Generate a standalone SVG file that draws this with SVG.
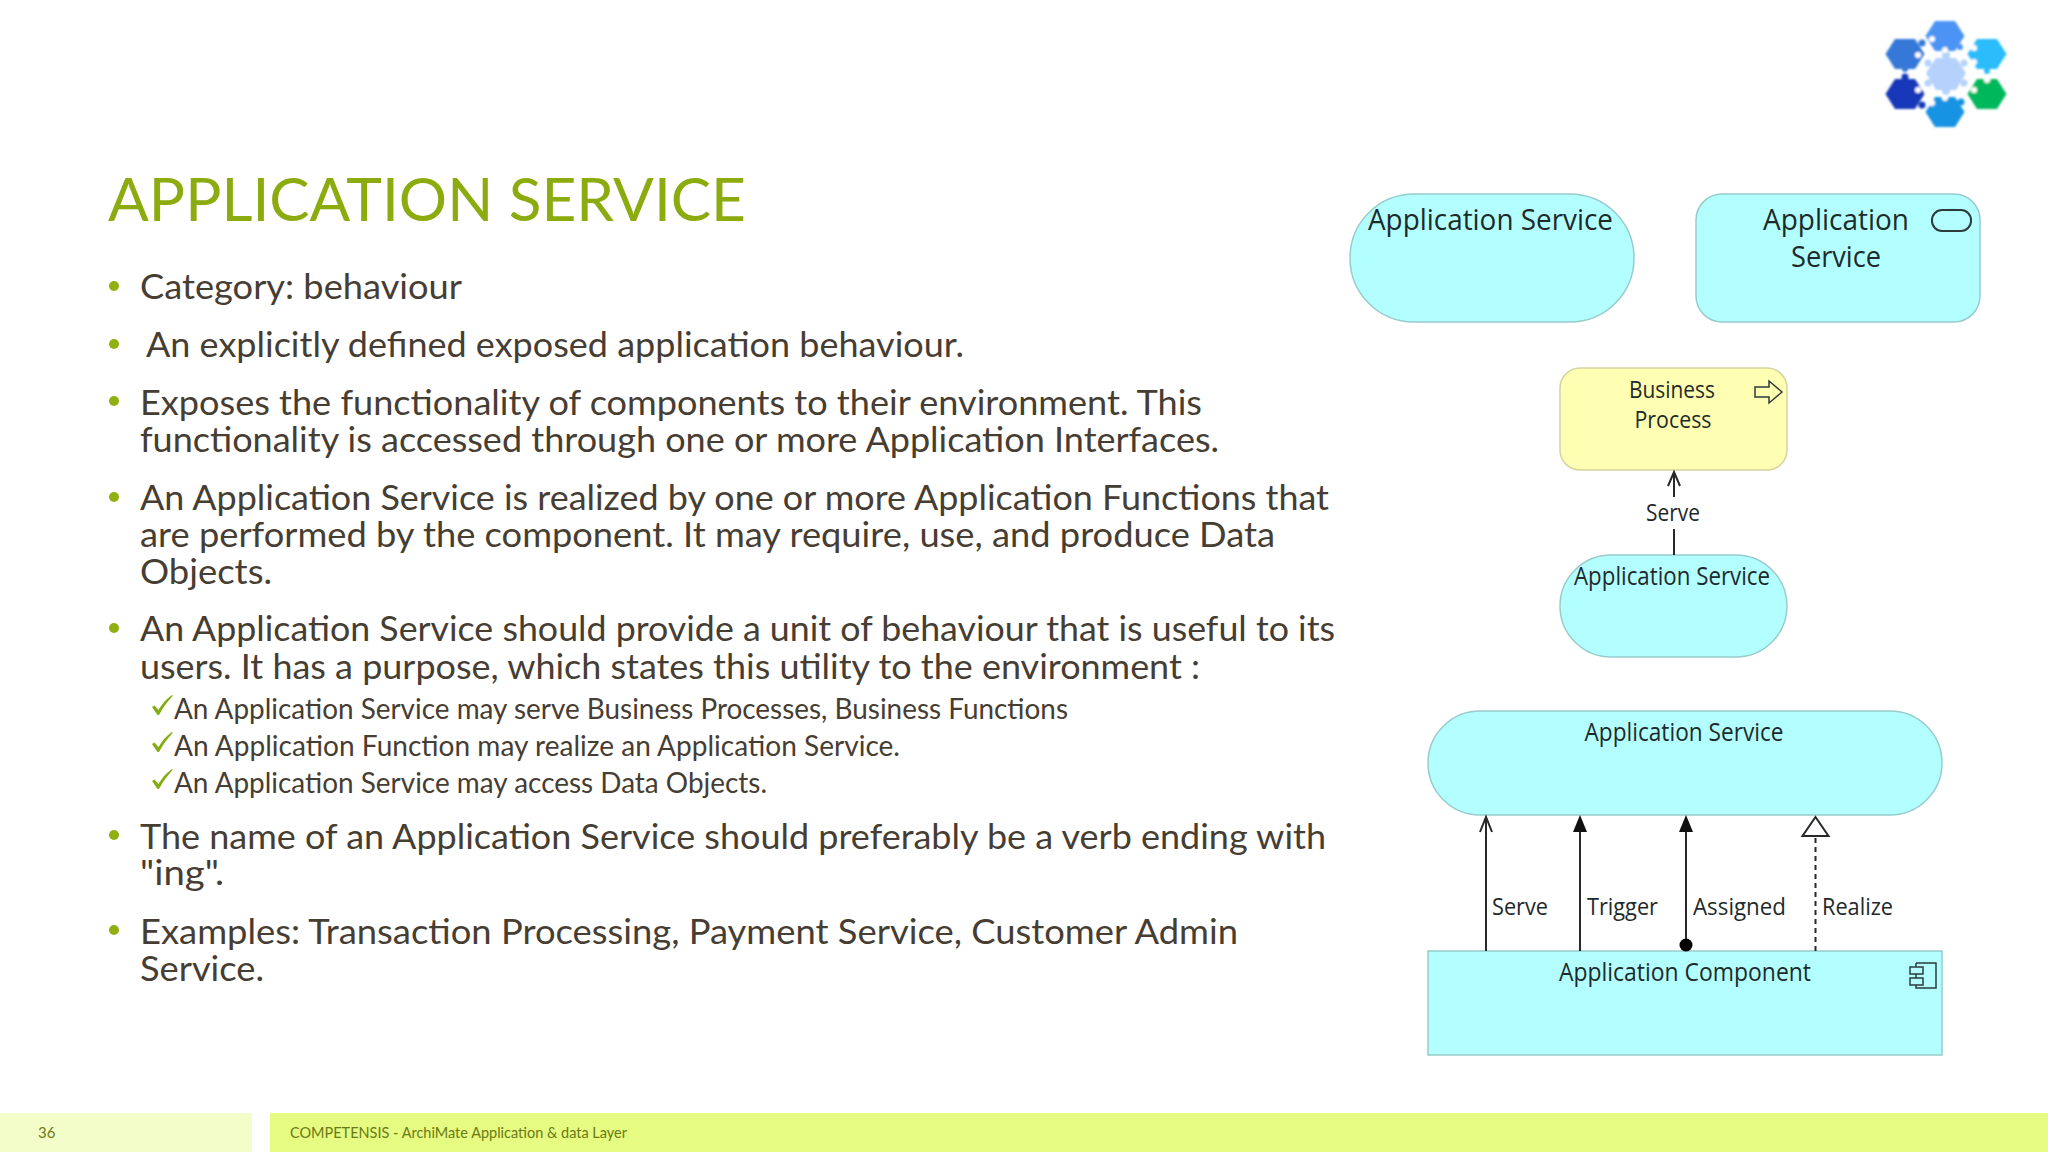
<svg xmlns="http://www.w3.org/2000/svg" xmlns:xlink="http://www.w3.org/1999/xlink" width="2048" height="1152" viewBox="0 0 2048 1152">
<style>
.b{font-family:Lato,"Liberation Sans",sans-serif;font-size:35px;fill:#463d33}
.s{font-family:Lato,"Liberation Sans",sans-serif;font-size:28px;fill:#463d33}
.t{font-family:Lato,"Liberation Sans",sans-serif;font-size:60px;fill:#8cab0f}
.f{font-family:Lato,"Liberation Sans",sans-serif;font-size:15px;fill:#6b7a12}
.l{font-family:"Open Sans","Noto Sans",sans-serif;fill:#1e2a2a}
.l30{font-size:30px}.l24{font-size:25px}.l23{font-size:24px}
.m{text-anchor:middle}
.app{fill:#b3ffff;stroke:#98cccc;stroke-width:1.500}
.biz{fill:#ffffb3;stroke:#d4d4a0;stroke-width:1.500}
.ic{fill:none;stroke:#2d3b3b;stroke-width:2}
.c{fill:none;stroke:#26282a;stroke-width:2}
.dot{fill:#8fb00f}
.chk{fill:#86ad10}
</style>
<defs>
<path id="hex" d="M-10-15H10L19.500 0L10 15H-10L-19.500 0Z"/>
<path id="tick" d="M0 8 L2.500 6.500 L6.500 11 C10 5 14 0 20-4 L20.800-3.200 C15 3 11 9 7 16 L5.500 16 Z"/>
<filter id="soft" x="-10%" y="-10%" width="120%" height="120%"><feGaussianBlur stdDeviation="0.8"/></filter>
</defs>
<rect width="2048" height="1152" fill="#fff"/>

<g id="logo" filter="url(#soft)">
<g fill="#4c94f5"><use xlink:href="#hex" x="1945" y="36"/><circle cx="1960" cy="47" r="3"/></g>
<g fill="#3678d8"><use xlink:href="#hex" x="1905" y="54"/><circle cx="1922" cy="43" r="3.500"/><circle cx="1905" cy="69" r="3"/></g>
<g fill="#2bbcfb"><use xlink:href="#hex" x="1987" y="54"/><circle cx="1987" cy="71" r="3"/></g>
<g fill="#1338b8"><use xlink:href="#hex" x="1905" y="94"/><circle cx="1905" cy="77" r="3.500"/><circle cx="1922" cy="105" r="3.500"/></g>
<g fill="#05b85c"><use xlink:href="#hex" x="1987" y="94"/></g>
<g fill="#1793e3"><use xlink:href="#hex" x="1945" y="112"/><circle cx="1961" cy="102" r="3.500"/></g>
<g fill="#b4d2fb"><path d="M1936 58H1956L1966 73L1956 90H1936L1926 73Z"/><circle cx="1946" cy="55" r="4"/><circle cx="1946" cy="91" r="4"/><circle cx="1928" cy="63" r="3.500"/><circle cx="1964" cy="63" r="3.500"/><circle cx="1928" cy="83" r="3.500"/><circle cx="1964" cy="83" r="3.500"/></g>
<g fill="#fff"><circle cx="1932" cy="39" r="3"/><circle cx="1945" cy="50" r="3"/><circle cx="1918" cy="55" r="3"/><circle cx="1974" cy="48" r="3"/><circle cx="1974" cy="62" r="3"/><circle cx="1918" cy="90" r="3"/><circle cx="1974" cy="90" r="3"/><circle cx="1987" cy="80" r="3"/><circle cx="1945" cy="98" r="3"/><circle cx="1932" cy="103" r="3"/></g>
</g>

<text class="t" x="108" y="221" textLength="638" lengthAdjust="spacingAndGlyphs">APPLICATION SERVICE</text>

<g id="bullets">
<circle class="dot" cx="114" cy="286" r="5"/>
<circle class="dot" cx="114" cy="344" r="5"/>
<circle class="dot" cx="114" cy="401" r="5"/>
<circle class="dot" cx="114" cy="497" r="5"/>
<circle class="dot" cx="114" cy="628" r="5"/>
<circle class="dot" cx="114" cy="835" r="5"/>
<circle class="dot" cx="114" cy="930" r="5"/>
<use xlink:href="#tick" class="chk" x="152" y="699"/>
<use xlink:href="#tick" class="chk" x="152" y="736"/>
<use xlink:href="#tick" class="chk" x="152" y="773"/>
</g>
<g id="body">
<text class="b" x="140" y="299" textLength="322" lengthAdjust="spacingAndGlyphs">Category: behaviour</text>
<text class="b" x="146" y="357" textLength="818" lengthAdjust="spacingAndGlyphs">An explicitly defined exposed application behaviour.</text>
<text class="b" x="140" y="415" textLength="1062" lengthAdjust="spacingAndGlyphs">Exposes the functionality of components to their environment. This</text>
<text class="b" x="140" y="452" textLength="1079" lengthAdjust="spacingAndGlyphs">functionality is accessed through one or more Application Interfaces.</text>
<text class="b" x="140" y="510" textLength="1189" lengthAdjust="spacingAndGlyphs">An Application Service is realized by one or more Application Functions that</text>
<text class="b" x="140" y="547" textLength="1135" lengthAdjust="spacingAndGlyphs">are performed by the component. It may require, use, and produce Data</text>
<text class="b" x="140" y="584" textLength="132" lengthAdjust="spacingAndGlyphs">Objects.</text>
<text class="b" x="140" y="641" textLength="1195" lengthAdjust="spacingAndGlyphs">An Application Service should provide a unit of behaviour that is useful to its</text>
<text class="b" x="140" y="679" textLength="1060" lengthAdjust="spacingAndGlyphs">users. It has a purpose, which states this utility to the environment :</text>
<text class="s" x="174" y="719" textLength="894" lengthAdjust="spacingAndGlyphs">An Application Service may serve Business Processes, Business Functions</text>
<text class="s" x="174" y="756" textLength="726" lengthAdjust="spacingAndGlyphs">An Application Function may realize an Application Service.</text>
<text class="s" x="174" y="793" textLength="593" lengthAdjust="spacingAndGlyphs">An Application Service may access Data Objects.</text>
<text class="b" x="140" y="849" textLength="1186" lengthAdjust="spacingAndGlyphs">The name of an Application Service should preferably be a verb ending with</text>
<text class="b" x="140" y="885" textLength="84" lengthAdjust="spacingAndGlyphs">"ing".</text>
<text class="b" x="140" y="944" textLength="1098" lengthAdjust="spacingAndGlyphs">Examples: Transaction Processing, Payment Service, Customer Admin</text>
<text class="b" x="140" y="981" textLength="124" lengthAdjust="spacingAndGlyphs">Service.</text>
</g>

<g id="node-service-rounded">
<rect class="app" x="1350" y="194" width="284" height="128" rx="64" ry="64"/>
<text class="l l30" x="1368" y="230" textLength="245" lengthAdjust="spacingAndGlyphs">Application Service</text>
</g>
<g id="node-service-icon">
<rect class="app" x="1696" y="194" width="284" height="128" rx="26" ry="26"/>
<rect class="ic" x="1932" y="210" width="39" height="21" rx="10" ry="10"/>
<text class="l l30 m" x="1836" y="230" textLength="146" lengthAdjust="spacingAndGlyphs">Application</text>
<text class="l l30 m" x="1836" y="267" textLength="90" lengthAdjust="spacingAndGlyphs">Service</text>
</g>
<g id="node-business-process">
<rect class="biz" x="1560" y="368" width="227" height="102" rx="20" ry="20"/>
<path class="ic" d="M1755 387H1769V381L1782 392L1769 403V397H1755Z" style="stroke-width:1.500"/>
<text class="l l23 m" x="1672" y="398" textLength="86" lengthAdjust="spacingAndGlyphs">Business</text>
<text class="l l23 m" x="1673" y="428" textLength="77" lengthAdjust="spacingAndGlyphs">Process</text>
</g>
<g id="node-service-small">
<rect class="app" x="1560" y="555" width="227" height="102" rx="51" ry="51"/>
<text class="l l24 m" x="1672" y="585" textLength="196" lengthAdjust="spacingAndGlyphs">Application Service</text>
</g>
<g id="node-service-wide">
<rect class="app" x="1428" y="711" width="514" height="104" rx="52" ry="52"/>
<text class="l l24 m" x="1684" y="741" textLength="199" lengthAdjust="spacingAndGlyphs">Application Service</text>
</g>
<g id="node-component">
<rect class="app" x="1428" y="951" width="514" height="104"/>
<path class="ic" d="M1916 963H1936V988H1916V963" style="stroke-width:1.500"/>
<rect class="ic" x="1910" y="967" width="13" height="7" style="fill:#b3ffff;stroke-width:1.500"/>
<rect class="ic" x="1910" y="978" width="13" height="7" style="fill:#b3ffff;stroke-width:1.500"/>
<text class="l l24 m" x="1685" y="981" textLength="252" lengthAdjust="spacingAndGlyphs">Application Component</text>
</g>

<g id="connectors">
<path class="c" d="M1674 497V473M1668 486L1674 472L1680 486"/>
<path class="c" d="M1674 529V555"/>
<path class="c" d="M1486 951V817M1480 832L1486 817L1492 832"/>
<path class="c" d="M1580 951V820"/>
<path d="M1580 815L1587 832H1573Z" fill="#111"/>
<path class="c" d="M1686 945V820"/>
<path d="M1686 815L1693 832H1679Z" fill="#111"/>
<circle cx="1686" cy="945" r="6.500" fill="#000"/>
<path class="c" d="M1815.500 951V836" stroke-dasharray="5 4"/>
<path d="M1815.500 817L1828.500 836H1802.500Z" fill="#fff" stroke="#26282a" stroke-width="2"/>
</g>
<g id="connector-labels">
<text class="l l23 m" x="1673" y="521" textLength="54" lengthAdjust="spacingAndGlyphs">Serve</text>
<text class="l l23" x="1492" y="915" textLength="56" lengthAdjust="spacingAndGlyphs">Serve</text>
<text class="l l23" x="1587" y="915" textLength="71" lengthAdjust="spacingAndGlyphs">Trigger</text>
<text class="l l23" x="1693" y="915" textLength="93" lengthAdjust="spacingAndGlyphs">Assigned</text>
<text class="l l23" x="1822" y="915" textLength="71" lengthAdjust="spacingAndGlyphs">Realize</text>
</g>

<g id="footer">
<rect x="0" y="1113" width="252" height="39" fill="#f3fdc9"/>
<rect x="270" y="1113" width="1778" height="39" fill="#e6fb82"/>
<text class="f" x="38" y="1138">36</text>
<text class="f" x="290" y="1138" textLength="337" lengthAdjust="spacingAndGlyphs">COMPETENSIS - ArchiMate Application &amp; data Layer</text>
</g>
</svg>
